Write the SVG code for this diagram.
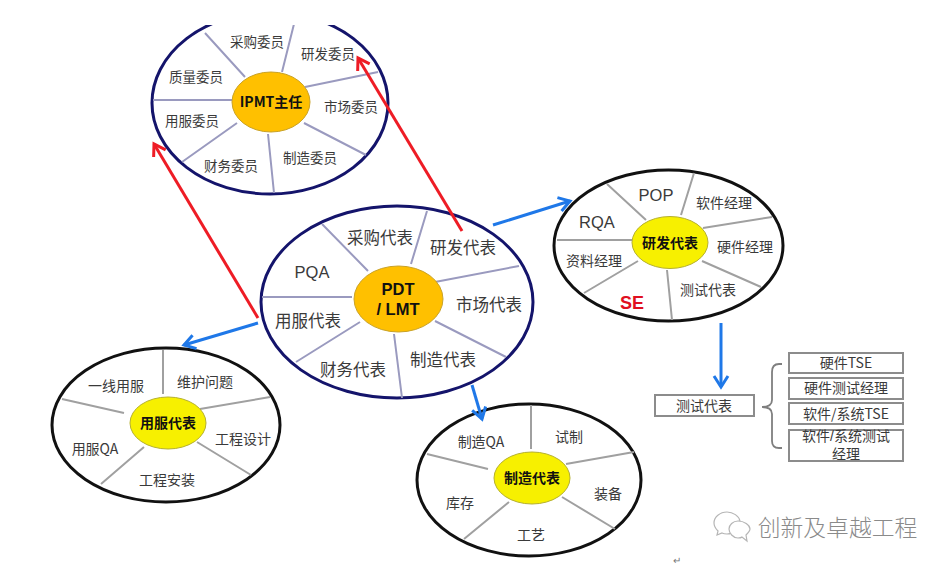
<svg xmlns="http://www.w3.org/2000/svg" width="948" height="568" viewBox="0 0 948 568">
<style>
text{font-family:"Noto Sans CJK SC","Liberation Sans",sans-serif;text-anchor:middle;dominant-baseline:central;fill:#3a3a3a}
text:not(.lat){transform:translateY(-1px)}
.lat{font-family:"Liberation Sans","Noto Sans CJK SC",sans-serif}
.s13{font-size:13.5px}.s14{font-size:14px}.s16{font-size:16.5px}
.hub{font-weight:700;fill:#111}
.navy{fill:#fff;stroke:#14146b;stroke-width:3}
.blk{fill:#fff;stroke:#111;stroke-width:3}
.sp{stroke:#9a9abf;stroke-width:2;fill:none}
.spg{stroke:#a0a0a0;stroke-width:2;fill:none}
.or{fill:#ffc000;stroke:#c9a227;stroke-width:1}
.ye{fill:#f7f000;stroke:#b5b030;stroke-width:1}
.box{fill:#fff;stroke:#8c8c8c;stroke-width:2}
.red{stroke:#ee1c25;stroke-width:3;fill:none;marker-end:url(#mr)}
.blu{stroke:#1f78e8;stroke-width:3;fill:none;marker-end:url(#mb)}
.wm{stroke:#b5b5b5;stroke-width:1.2;fill:#fff}
</style>
<defs>
<clipPath id="topclip"><rect x="0" y="25" width="948" height="543"/></clipPath>
<marker id="mr" markerUnits="userSpaceOnUse" markerWidth="20" markerHeight="20" refX="15" refY="10" orient="auto"><path d="M4 3L15 10L4 17" fill="none" stroke="#ee1c25" stroke-width="3"/></marker>
<marker id="mb" markerUnits="userSpaceOnUse" markerWidth="20" markerHeight="20" refX="15" refY="10" orient="auto"><path d="M4 3L15 10L4 17" fill="none" stroke="#1f78e8" stroke-width="3"/></marker>
</defs>
<rect width="948" height="568" fill="#fff"/>

<g id="node-ipmt" clip-path="url(#topclip)">
<ellipse class="navy" cx="270" cy="103" rx="118" ry="91"/>
<path class="sp" d="M205 33L245 77M295 20L282 72M378 72L305 87M153 100H232M182 162L237 123M268 134L274 193M304 123L366 155"/>
<ellipse class="or" cx="271" cy="102" rx="39" ry="30"/>
<text class="hub s14" x="271" y="102">IPMT主任</text>
<text class="s13" x="257" y="42">采购委员</text>
<text class="s13" x="328" y="54">研发委员</text>
<text class="s13" x="196" y="77">质量委员</text>
<text class="s13" x="351" y="107">市场委员</text>
<text class="s13" x="192" y="121">用服委员</text>
<text class="s13" x="231" y="166">财务委员</text>
<text class="s13" x="310" y="158">制造委员</text>
</g>

<g id="node-pdt">
<ellipse class="navy" cx="397" cy="302" rx="136" ry="96"/>
<path class="sp" d="M322 224L368 271M427 211L411 264M519 266L435 282M262 297H352M296 362L360 322M394 334L402 398M435 321L506 357"/>
<ellipse class="or" cx="398.500" cy="299" rx="44.500" ry="33"/>
<text class="hub s16 lat" x="398" y="289">PDT</text>
<text class="hub s16 lat" x="398" y="309">/ LMT</text>
<text class="s16" x="380" y="238">采购代表</text>
<text class="s16" x="463" y="248">研发代表</text>
<text class="s16 lat" x="312" y="272">PQA</text>
<text class="s16" x="489" y="305">市场代表</text>
<text class="s16" x="308" y="321">用服代表</text>
<text class="s16" x="353" y="370">财务代表</text>
<text class="s16" x="443" y="360">制造代表</text>
</g>

<g id="node-rd">
<ellipse class="blk" cx="668.500" cy="245.500" rx="114.500" ry="75.500"/>
<path class="spg" d="M607 184L646 220M694 173L681 215M772 217L703 228M557 240H632M584 293L638 261M667 270L672 320M702 261L761 287"/>
<ellipse class="ye" cx="670" cy="242.500" rx="38" ry="26"/>
<text class="hub s14" x="670" y="243">研发代表</text>
<text class="s16 lat" x="656" y="195">POP</text>
<text class="s14" x="724" y="203">软件经理</text>
<text class="s16 lat" x="597" y="222">RQA</text>
<text class="s14" x="745" y="247">硬件经理</text>
<text class="s14" x="594" y="261">资料经理</text>
<text class="s14" x="708" y="290">测试代表</text>
<text class="lat" x="632" y="303" style="font-size:18px;font-weight:700;fill:#e01020">SE</text>
</g>

<g id="node-service">
<ellipse class="blk" cx="166" cy="425" rx="114" ry="77"/>
<path class="spg" d="M163 350V394M270 397L200 409M62 399L124 413M101 484L144 447M197 442L251 475"/>
<ellipse class="ye" cx="168" cy="423" rx="38" ry="26"/>
<text class="hub s14" x="168" y="423">用服代表</text>
<text class="s14" x="116" y="386">一线用服</text>
<text class="s14" x="205" y="382">维护问题</text>
<text class="s14" x="243" y="439">工程设计</text>
<text class="s14" x="95" y="449">用服QA</text>
<text class="s14" x="167" y="480">工程安装</text>
</g>

<g id="node-mfg">
<ellipse class="blk" cx="529" cy="480" rx="112" ry="76"/>
<path class="spg" d="M531 405V449M634 452L566 464M427 454L488 469M464 539L509 502M562 497L615 529"/>
<ellipse class="ye" cx="532" cy="478" rx="38" ry="26"/>
<text class="hub s14" x="532" y="478">制造代表</text>
<text class="s14" x="481" y="442">制造QA</text>
<text class="s14" x="569" y="437">试制</text>
<text class="s14" x="608" y="494">装备</text>
<text class="s14" x="460" y="503">库存</text>
<text class="s14" x="531" y="535">工艺</text>
</g>

<g id="node-test"><rect class="box" x="655" y="395" width="99" height="21"/><text class="s14" x="704" y="406">测试代表</text></g>
<g id="node-hw-tse"><rect class="box" x="789" y="353" width="114" height="20"/><text class="s14" x="846" y="363">硬件TSE</text></g>
<g id="node-hw-test"><rect class="box" x="789" y="378" width="114" height="21"/><text class="s14" x="846" y="388">硬件测试经理</text></g>
<g id="node-sw-tse"><rect class="box" x="789" y="403" width="114" height="21"/><text class="s14" x="846" y="414">软件/系统TSE</text></g>
<g id="node-sw-test"><rect class="box" x="789" y="430" width="114" height="31"/><text class="s14 lat" x="846" y="436">软件/系统测试</text><text class="s14 lat" x="846" y="453.500">经理</text></g>

<g id="connectors">
<path class="red" d="M462 231L358 58"/>
<path class="red" d="M258 318L154 144"/>
<path class="blu" d="M493 225L570 201"/>
<path class="blu" d="M258 323L184 345"/>
<path class="blu" d="M472 385L482 419"/>
<path class="blu" d="M721 323V387"/>
<path d="M782 364H779Q772 364 772 372V400Q772 407 762 407Q772 407 772 414V441Q772 448 779 448H782" fill="none" stroke="#7f7f7f" stroke-width="1.800"/>
</g>

<g id="watermark">
<path class="wm" d="M727 512c-7 0-13 5-13 11c0 3 2 6 4 8l-1 4l5-2c2 1 3 1 5 1c2 0 3 0 4-1c-1-6 3-11 9-12c-1-5-7-9-13-9z"/>
<path class="wm" d="M738 521c-5 0-9 4-9 8s4 9 9 9c2 0 3 0 4-1l5 4l-1-6c2-2 4-4 4-6c0-4-6-8-12-8z"/>
<text x="837.500" y="527" style="font-size:22.800px;fill:#8a8a8a;font-weight:300">创新及卓越工程</text>
<text class="lat" x="677" y="560" style="font-size:10px;fill:#777">↵</text>
</g>
</svg>
